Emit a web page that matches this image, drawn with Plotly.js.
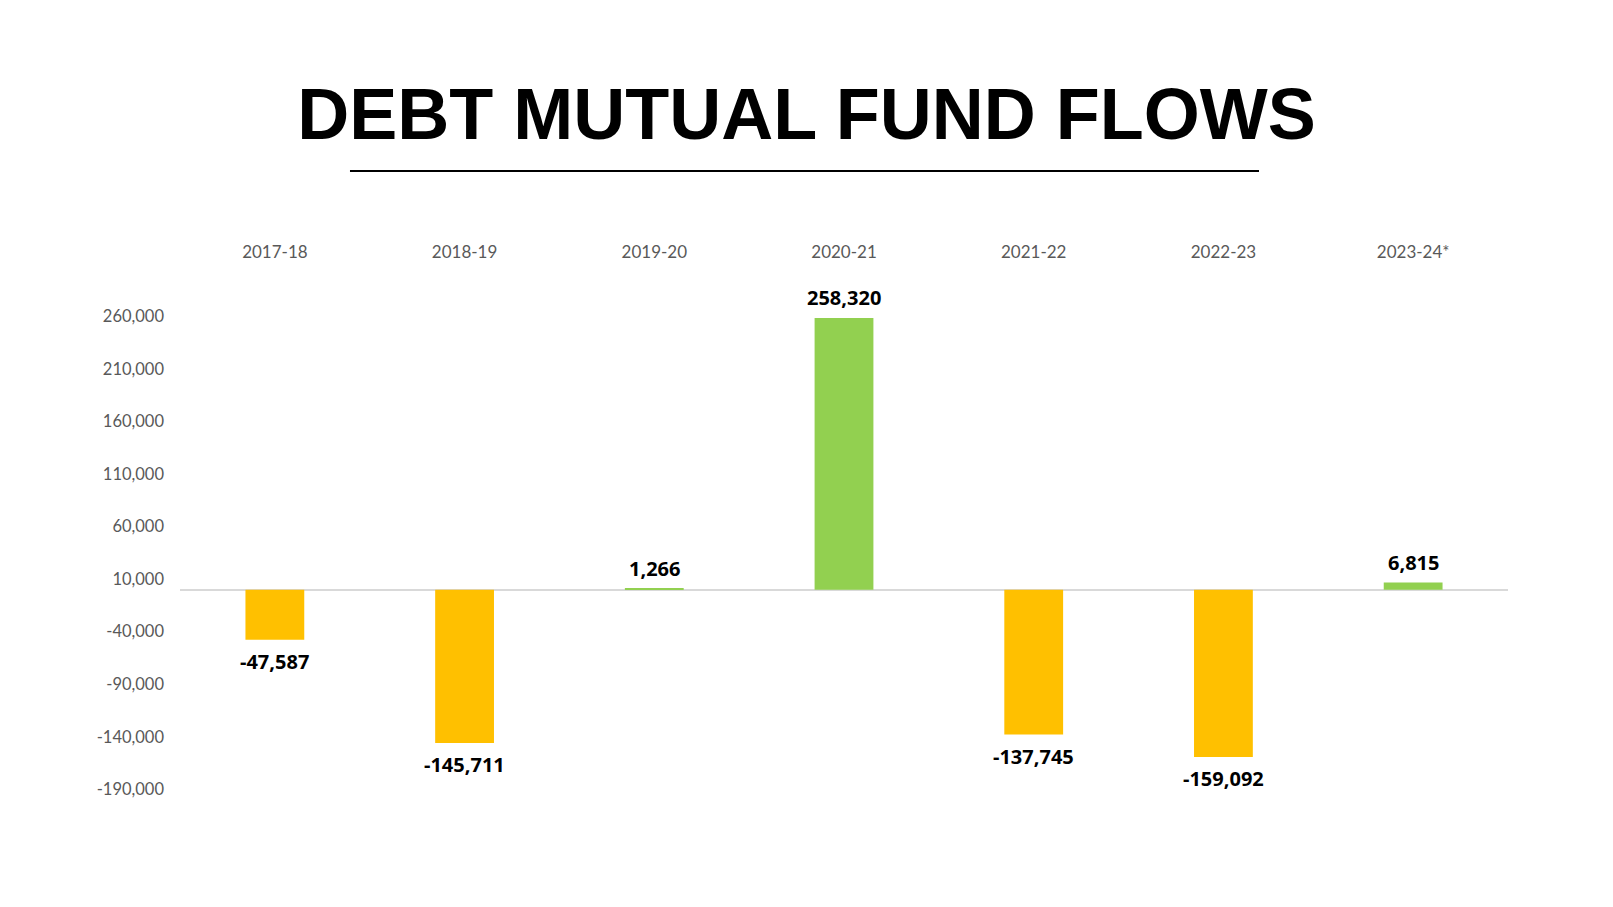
<!DOCTYPE html>
<html>
<head>
<meta charset="utf-8">
<script src="https://cdn.plot.ly/plotly-3.0.1.min.js"></script>
<style>
  html, body { margin: 0; padding: 0; background: #fff; }
  #chart { width: 1613px; height: 907px; }
</style>
</head>
<body>
<div id="chart"></div>
<script>
var years = ['2017-18', '2018-19', '2019-20', '2020-21', '2021-22', '2022-23', '2023-24*'];
var flows = [-47587, -145711, 1266, 258320, -137745, -159092, 6815];
var yTicks = [-190000, -140000, -90000, -40000, 10000, 60000, 110000, 160000, 210000, 260000];

var orange = '#FFC000';
var green = '#92D050';

var barColors = flows.map(function (v) { return v < 0 ? orange : green; });

// plain hyphen for negatives, like the original sheet
var yTickText = yTicks.map(function (v) { return v.toLocaleString('en-US'); });

var data = [{
  x: years,
  y: flows,
  type: 'bar',
  marker: { color: barColors },
  hoverinfo: 'x+y',
  cliponaxis: false
}];

// value labels placed just outside each bar end
var labels = flows.map(function (v, i) {
  return {
    x: years[i],
    y: v,
    text: v.toLocaleString('en-US'),
    showarrow: false,
    yanchor: 'middle',
    yshift: v < 0 ? -22 : 20,
    font: { family: 'Open Sans', size: 20, color: '#000', weight: 'bold' }
  };
});

var layout = {
  width: 1613,
  height: 907,
  paper_bgcolor: '#fff',
  plot_bgcolor: '#fff',
  margin: { l: 180, r: 105, t: 262, b: 107 },
  showlegend: false,
  title: {
    text: '<b>DEBT MUTUAL FUND FLOWS</b>',
    font: { family: 'Liberation Sans', size: 72, color: '#000' },
    x: 0.5,
    xanchor: 'center',
    y: 0.875,
    yanchor: 'middle'
  },
  bargap: 0.69,
  xaxis: {
    side: 'top',
    showgrid: false,
    showline: false,
    ticks: '',
    tickfont: { family: 'Lato', size: 17, color: '#595959' },
    fixedrange: true
  },
  yaxis: {
    range: [-200000, 311500],
    tickvals: yTicks,
    ticktext: yTickText,
    showgrid: false,
    showline: false,
    zeroline: true,
    zerolinecolor: '#D9D9D9',
    zerolinewidth: 1.5,
    ticks: '',
    ticklabelstandoff: 15,
    tickfont: { family: 'Lato', size: 16.5, color: '#595959' },
    fixedrange: true
  },
  shapes: [{
    type: 'line',
    xref: 'paper', yref: 'paper',
    x0: 0.128, x1: 0.8125,
    y0: 1.169, y1: 1.169,
    line: { color: '#000', width: 2 }
  }],
  annotations: labels
};

Plotly.newPlot('chart', data, layout, { displayModeBar: false });
</script>
</body>
</html>
